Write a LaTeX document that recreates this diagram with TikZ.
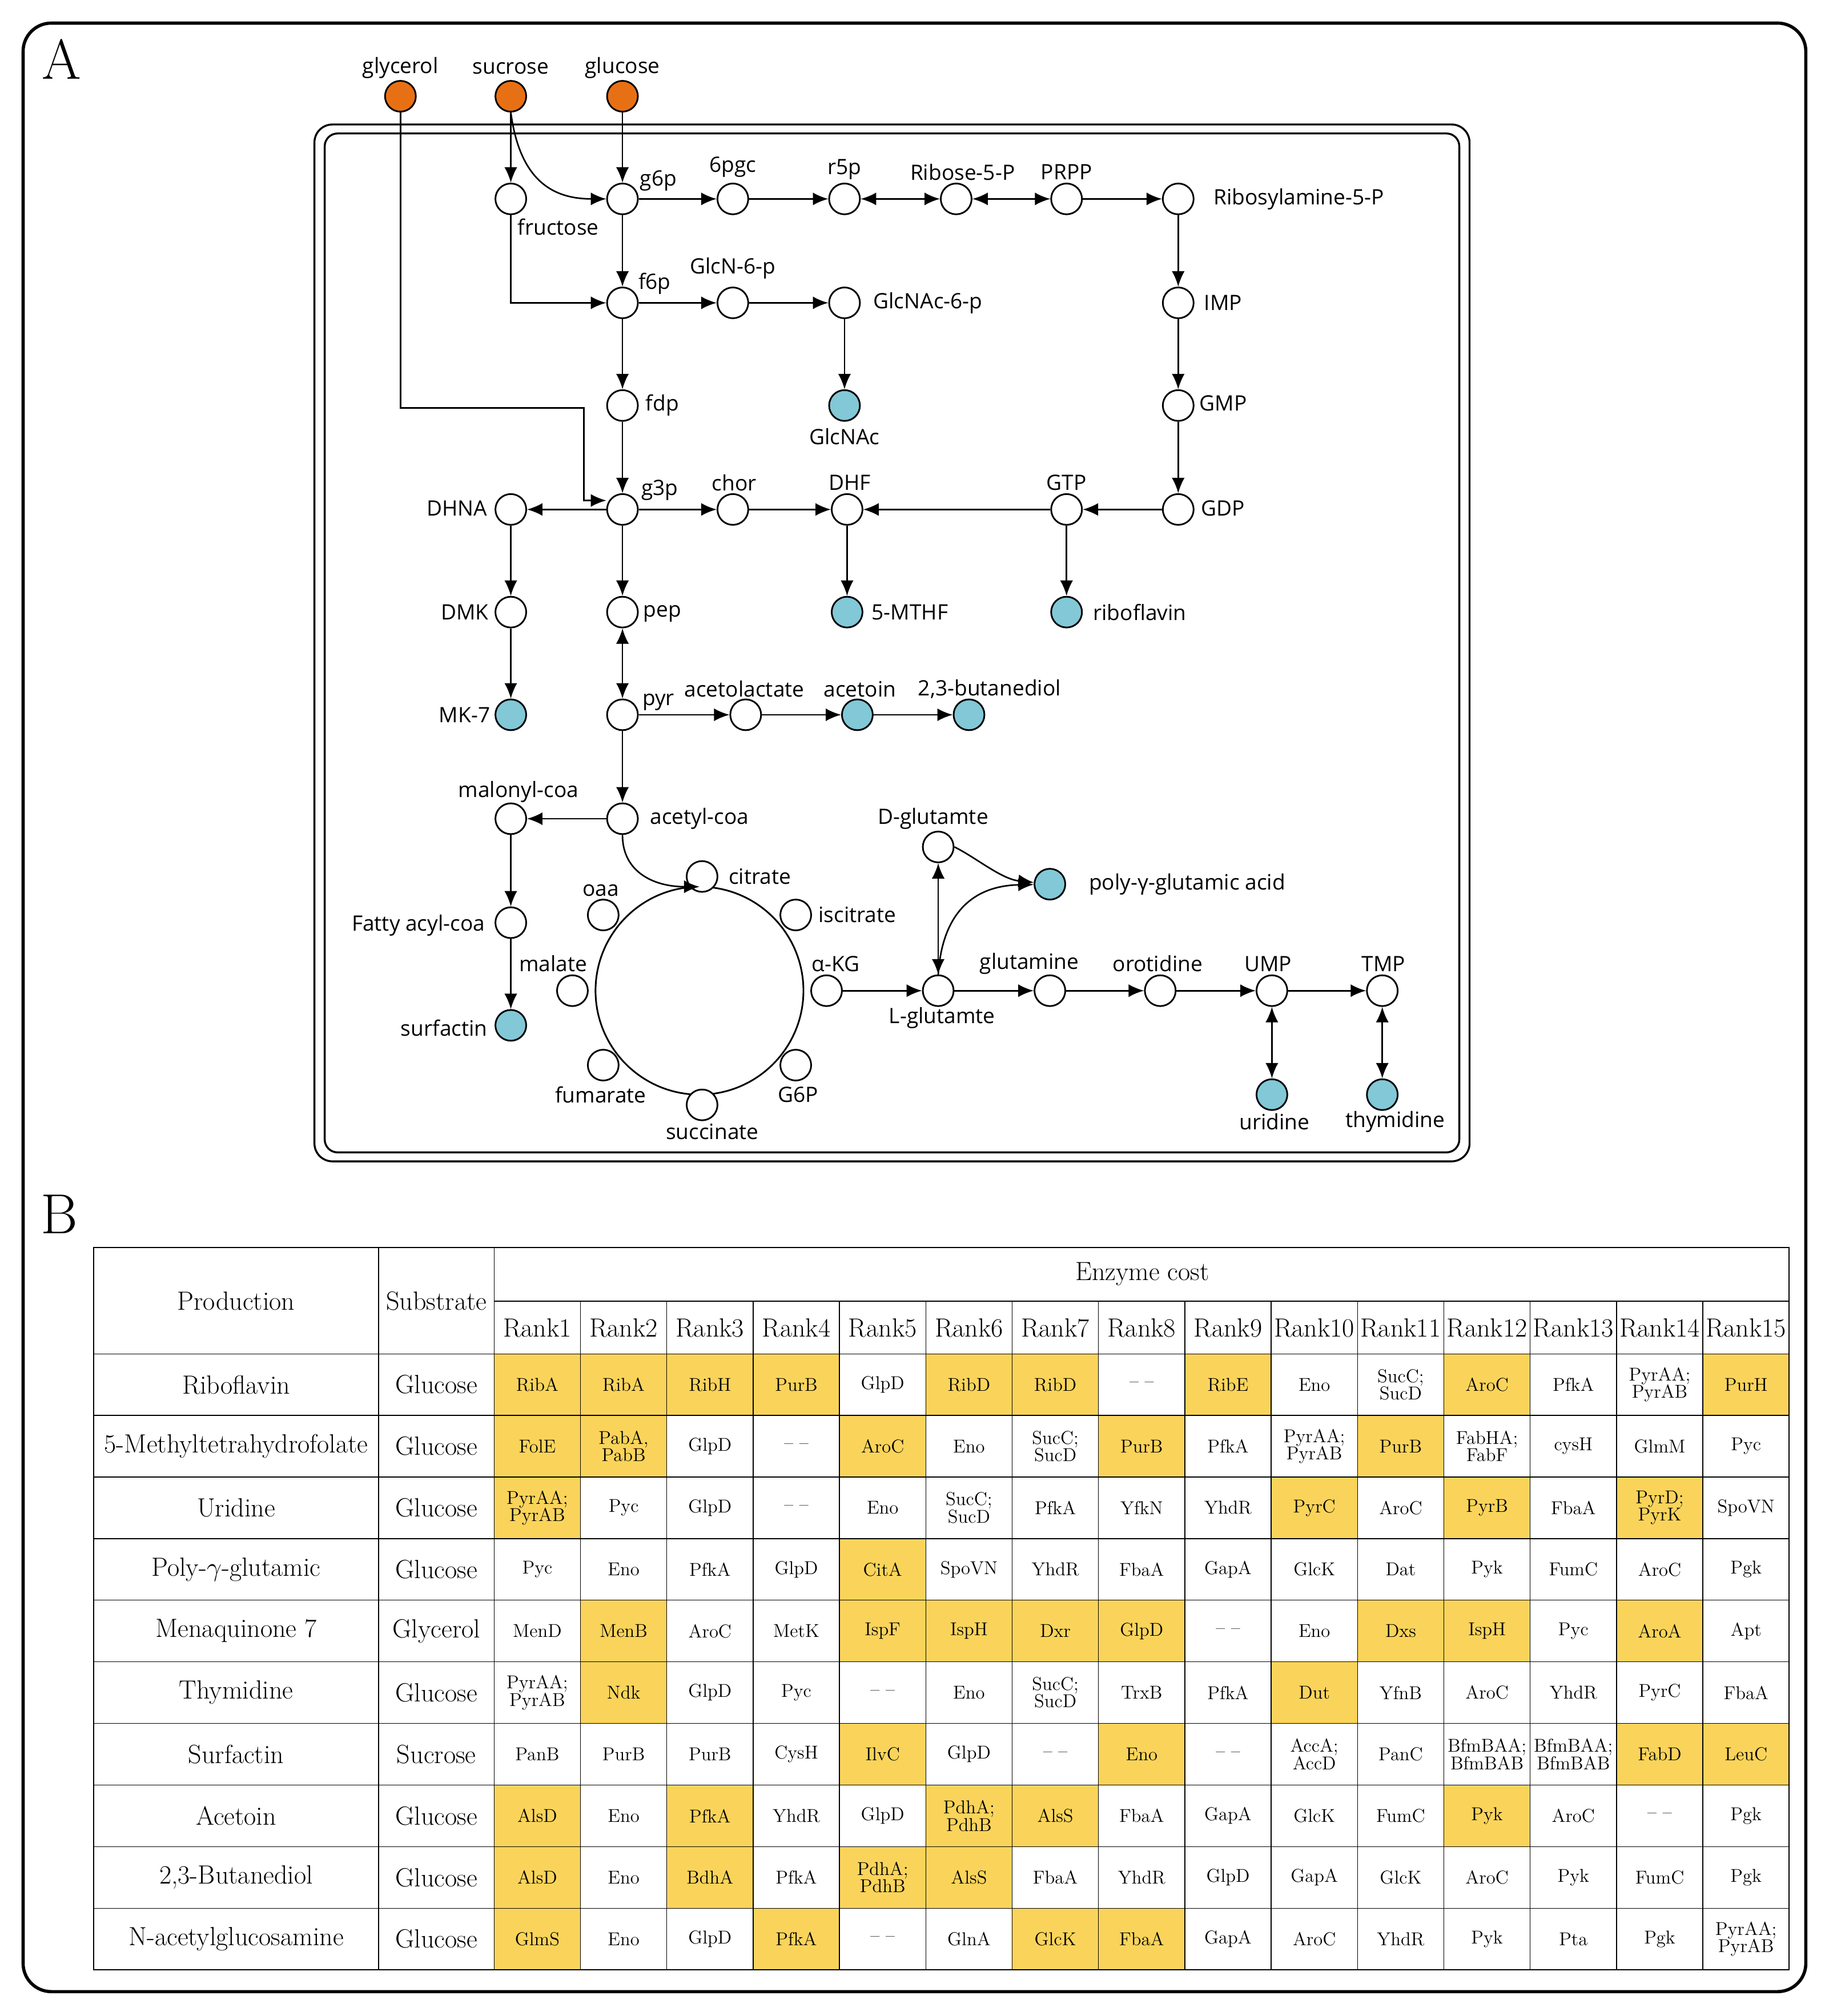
\documentclass[tikz,border=0pt]{standalone}
\usepackage{fontspec}
\newfontfamily\dsans{Open Sans}
\usetikzlibrary{arrows.meta}
\definecolor{org}{RGB}{232,112,20}
\definecolor{blu}{RGB}{130,200,215}
\definecolor{hl}{RGB}{250,212,90}
\begin{document}
\begin{tikzpicture}[x=1pt,y=-1pt,
 m/.style={circle,draw,line width=1.3pt,minimum size=24pt,inner sep=0pt,fill=white},
 o/.style={m,fill=org}, b/.style={m,fill=blu},
 lbl/.style={font=\dsans\fontsize{16.5}{18}\selectfont,inner sep=0pt},
 ar/.style={line width=1.2pt,-{Latex[length=12pt,width=10pt]}},
 da/.style={line width=1.2pt,{Latex[length=12pt,width=10pt]}-{Latex[length=12pt,width=10pt]}},
 cell/.style={font=\fontsize{14.5}{13.5}\selectfont,align=center,inner sep=0pt},
 hd/.style={font=\fontsize{20.5}{22}\selectfont,align=center,inner sep=0pt}]
\useasboundingbox (0,0) rectangle (1425,1571);
\fill[white] (0,0) rectangle (1425,1571);
\draw[line width=2.5pt,rounded corners=22pt] (18,18) rectangle (1407,1552);
\node[font=\fontsize{44}{44}\selectfont] (A) at (48,46) {A};
\node[font=\fontsize{44}{44}\selectfont] (B) at (46,946) {B};
\draw[line width=1.5pt,rounded corners=14pt] (245,97) rectangle (1145,905);
\draw[line width=1.5pt,rounded corners=10pt] (253,104) rectangle (1137,898);
% TCA circle
\draw[line width=1.3pt] (545,772) circle (81);
% nodes
\node[o] (gly) at (312,75) {}; \node[o] (suc) at (398,75) {}; \node[o] (glc) at (485,75) {};
\node[m] (fru) at (398,155) {}; \node[m] (g6p) at (485,155) {}; \node[m] (pgc) at (571,155) {};
\node[m] (r5p) at (658,155) {}; \node[m] (rib) at (745,155) {}; \node[m] (prpp) at (831,155) {};
\node[m] (rsa) at (918,155) {};
\node[m] (f6p) at (485,236) {}; \node[m] (gln6) at (571,236) {}; \node[m] (glcnac6) at (658,236) {};
\node[m] (imp) at (918,236) {};
\node[m] (fdp) at (485,316) {}; \node[b] (glcnac) at (658,316) {}; \node[m] (gmp) at (918,316) {};
\node[m] (dhna) at (398,397) {}; \node[m] (g3p) at (485,397) {}; \node[m] (chor) at (571,397) {};
\node[m] (dhf) at (660,397) {}; \node[m] (gtp) at (831,397) {}; \node[m] (gdp) at (918,397) {};
\node[m] (dmk) at (398,477) {}; \node[m] (pep) at (485,477) {}; \node[b] (mthf) at (660,477) {};
\node[b] (ribo) at (831,477) {};
\node[b] (mk7) at (398,557) {}; \node[m] (pyr) at (485,557) {}; \node[m] (al) at (581,557) {};
\node[b] (acn) at (668,557) {}; \node[b] (bd) at (755,557) {};
\node[m] (mal) at (398,638) {}; \node[m] (acc) at (485,638) {};
\node[m] (dglu) at (731,660) {}; \node[b] (pga) at (818,689) {};
\node[m] (fac) at (398,719) {}; \node[b] (surf) at (398,799) {};
\node[m] (cit) at (547,683) {}; \node[m] (isc) at (620,713) {}; \node[m] (akg) at (644,772) {};
\node[m] (g6pb) at (620,830) {}; \node[m] (succ) at (547,861) {}; \node[m] (fum) at (470,830) {};
\node[m] (malt) at (446,772) {}; \node[m] (oaa) at (470,713) {};
\node[m] (lglu) at (731,772) {}; \node[m] (glm) at (818,772) {}; \node[m] (oro) at (904,772) {};
\node[m] (ump) at (991,772) {}; \node[m] (tmp) at (1077,772) {};
\node[b] (uri) at (991,853) {}; \node[b] (thy) at (1077,853) {};
\coordinate (tcatop) at (545,691);
% labels
\foreach \p/\t in {{312,53}/glycerol,{398,53}/sucrose,{485,53}/glucose,{435,177}/fructose,{513,141}/g6p,{571,130}/6pgc,{658,132}/r5p,{750,134}/Ribose-5-P,{831,134}/PRPP,{1012,155}/Ribosylamine-5-P,{510,221}/f6p,{571,209}/GlcN-6-p,{723,236}/GlcNAc-6-p,{953,236}/IMP,{516,316}/fdp,{658,340}/GlcNAc,{953,314}/GMP,{356,396}/DHNA,{514,382}/g3p,{572,376}/chor,{662,376}/DHF,{831,376}/GTP,{953,396}/GDP,{362,477}/DMK,{516,478}/pep,{709,477}/5-MTHF,{888,477}/riboflavin,{362,557}/MK-7,{513,547}/pyr,{580,537}/acetolactate,{670,537}/acetoin,{771,537}/{2,3-butanediol},{404,617}/malonyl-coa,{545,638}/acetyl-coa,{727,638}/D-glutamte,{925,689}/poly-γ-glutamic acid,{592,683}/citrate,{668,713}/iscitrate,{468,694}/oaa,{326,721}/Fatty acyl-coa,{431,751}/malate,{651,751}/α-KG,{802,751}/glutamine,{902,751}/orotidine,{988,751}/UMP,{1078,751}/TMP,{734,793}/L-glutamte,{346,801}/surfactin,{468,853}/fumarate,{622,853}/G6P,{555,882}/succinate,{993,874}/uridine,{1087,874}/thymidine}
  \node[lbl] at (\p) {\t};
% edges
\draw[ar] (suc) -- (fru);
\draw[ar] (suc.south) .. controls (405,140) and (430,155) .. (g6p);
\draw[ar] (glc) -- (g6p);
\draw[ar] (g6p) -- (pgc); \draw[ar] (pgc) -- (r5p);
\draw[da] (r5p) -- (rib); \draw[da] (rib) -- (prpp);
\draw[ar] (prpp) -- (rsa); \draw[ar] (rsa) -- (imp); \draw[ar] (imp) -- (gmp); \draw[ar] (gmp) -- (gdp);
\draw[ar] (gdp) -- (gtp); \draw[ar] (gtp) -- (dhf); \draw[ar] (gtp) -- (ribo); \draw[ar] (dhf) -- (mthf);
\draw[ar] (g3p) -- (chor); \draw[ar] (chor) -- (dhf); \draw[ar] (g3p) -- (dhna);
\draw[ar] (dhna) -- (dmk); \draw[ar] (dmk) -- (mk7);
\draw[ar] (g6p) -- (f6p); \draw[ar] (fru) |- (f6p);
\draw[ar] (f6p) -- (gln6); \draw[ar] (gln6) -- (glcnac6); \draw[ar] (glcnac6) -- (glcnac);
\draw[ar] (f6p) -- (fdp); \draw[ar] (fdp) -- (g3p);
\draw[ar] (gly) -- (312,318) -- (455,318) -- (455,390) -- (g3p.west |- 0,390);
\draw[ar] (g3p) -- (pep); \draw[da] (pep) -- (pyr);
\draw[ar] (pyr) -- (al); \draw[ar] (al) -- (acn); \draw[ar] (acn) -- (bd);
\draw[ar] (pyr) -- (acc); \draw[ar] (acc) -- (mal); \draw[ar] (mal) -- (fac); \draw[ar] (fac) -- (surf);
\draw[ar] (acc.south) .. controls (485,680) and (510,691) .. (tcatop);
\draw[ar] (akg) -- (lglu); \draw[da] (lglu) -- (dglu);
\draw[ar] (dglu.east) .. controls (760,668) and (780,685) .. (pga);
\draw[ar] (lglu.north) .. controls (735,700) and (770,690) .. (pga);
\draw[ar] (lglu) -- (glm); \draw[ar] (glm) -- (oro); \draw[ar] (oro) -- (ump); \draw[ar] (ump) -- (tmp);
\draw[da] (ump) -- (uri); \draw[da] (tmp) -- (thy);
% table
\def\cx{385}\def\cw{67.27}
\foreach \r/\row in {1/{RibA/1,RibA/1,RibH/1,PurB/1,GlpD/0,RibD/1,RibD/1,-- --/0,RibE/1,Eno/0,SucC;\\SucD/0,AroC/1,PfkA/0,PyrAA;\\PyrAB/0,PurH/1},
 2/{FolE/1,{PabA,\\PabB}/1,GlpD/0,-- --/0,AroC/1,Eno/0,SucC;\\SucD/0,PurB/1,PfkA/0,PyrAA;\\PyrAB/0,PurB/1,FabHA;\\FabF/0,cysH/0,GlmM/0,Pyc/0},
 3/{PyrAA;\\PyrAB/1,Pyc/0,GlpD/0,-- --/0,Eno/0,SucC;\\SucD/0,PfkA/0,YfkN/0,YhdR/0,PyrC/1,AroC/0,PyrB/1,FbaA/0,PyrD;\\PyrK/1,SpoVN/0},
 4/{Pyc/0,Eno/0,PfkA/0,GlpD/0,CitA/1,SpoVN/0,YhdR/0,FbaA/0,GapA/0,GlcK/0,Dat/0,Pyk/0,FumC/0,AroC/0,Pgk/0},
 5/{MenD/0,MenB/1,AroC/0,MetK/0,IspF/1,IspH/1,Dxr/1,GlpD/1,-- --/0,Eno/0,Dxs/1,IspH/1,Pyc/0,AroA/1,Apt/0},
 6/{PyrAA;\\PyrAB/0,Ndk/1,GlpD/0,Pyc/0,-- --/0,Eno/0,SucC;\\SucD/0,TrxB/0,PfkA/0,Dut/1,YfnB/0,AroC/0,YhdR/0,PyrC/0,FbaA/0},
 7/{PanB/0,PurB/0,PurB/0,CysH/0,IlvC/1,GlpD/0,-- --/0,Eno/1,-- --/0,AccA;\\AccD/0,PanC/0,BfmBAA;\\BfmBAB/0,BfmBAA;\\BfmBAB/0,FabD/1,LeuC/1},
 8/{AlsD/1,Eno/0,PfkA/1,YhdR/0,GlpD/0,PdhA;\\PdhB/1,AlsS/1,FbaA/0,GapA/0,GlcK/0,FumC/0,Pyk/1,AroC/0,-- --/0,Pgk/0},
 9/{AlsD/1,Eno/0,BdhA/1,PfkA/0,PdhA;\\PdhB/1,AlsS/1,FbaA/0,YhdR/0,GlpD/0,GapA/0,GlcK/0,AroC/0,Pyk/0,FumC/0,Pgk/0},
 10/{GlmS/1,Eno/0,GlpD/0,PfkA/1,-- --/0,GlnA/0,GlcK/1,FbaA/1,GapA/0,AroC/0,YhdR/0,Pyk/0,Pta/0,Pgk/0,PyrAA;\\PyrAB/0}}{
  \foreach \t/\h [count=\c] in \row {
    \pgfmathsetmacro\xa{\cx+(\c-1)*\cw}
    \pgfmathsetmacro\ya{1055+(\r-1)*48}
    \ifnum\h=1 \fill[hl] (\xa,\ya) rectangle ++(\cw,48); \fi
    \node[cell] at (\xa+\cw/2,\ya+24) {\t};
  }
}
\foreach \r/\p/\s in {1/Riboflavin/Glucose,2/5-Methyltetrahydrofolate/Glucose,3/Uridine/Glucose,4/Poly-$\gamma$-glutamic/Glucose,5/Menaquinone 7/Glycerol,6/Thymidine/Glucose,7/Surfactin/Sucrose,8/Acetoin/Glucose,9/{2,3-Butanediol}/Glucose,10/N-acetylglucosamine/Glucose}{
  \node[hd] at (184,1055+\r*48-24) {\p};
  \node[hd] at (340,1055+\r*48-24) {\s};
}
\foreach \c in {1,...,15}{ \node[hd] at (\cx+\c*\cw-\cw/2,1035) {Rank\c}; }
\node[hd] at (184,1014) {Production};
\node[hd] at (340,1014) {Substrate};
\node[hd] at (890,993) {Enzyme cost};
\draw[line width=0.8pt] (73,972) rectangle (1394,1535);
\draw[line width=0.6pt] (385,1014) -- (1394,1014);
\foreach \r in {0,...,9} \draw[line width=0.6pt] (73,1055+\r*48) -- (1394,1055+\r*48);
\draw[line width=0.6pt] (295,972) -- (295,1535); \draw[line width=0.6pt] (385,972) -- (385,1535);
\foreach \c in {1,...,14} \draw[line width=0.6pt] (\cx+\c*\cw,1014) -- (\cx+\c*\cw,1535);
\end{tikzpicture}
\end{document}
